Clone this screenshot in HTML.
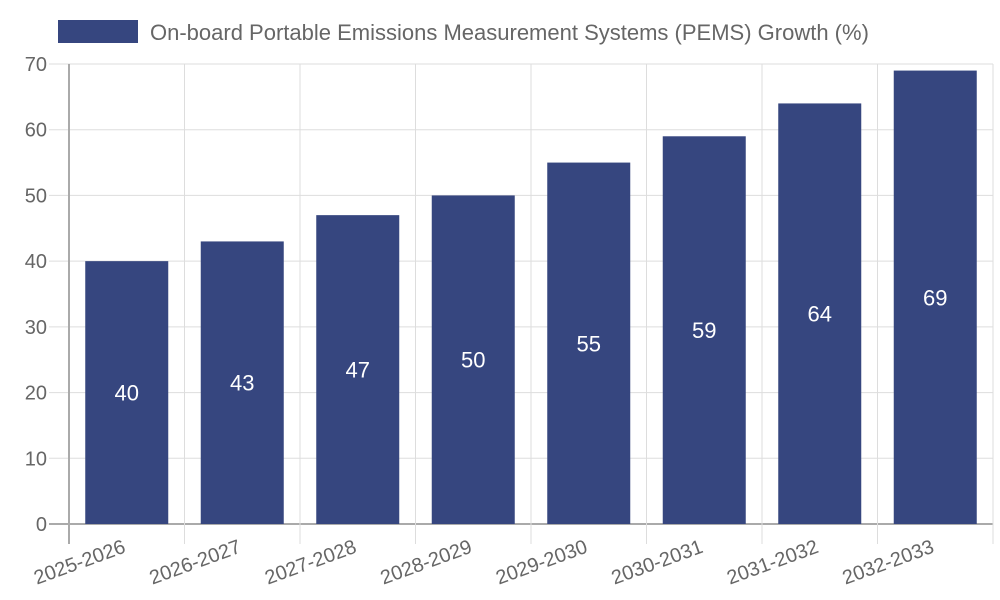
<!DOCTYPE html>
<html><head><meta charset="utf-8"><style>
body{margin:0;background:#fff;}
svg{display:block;font-family:"Liberation Sans",sans-serif;}
</style></head><body>
<svg id="c" width="1000" height="600">
<rect x="58" y="20" width="80" height="23" fill="#36467f"/>
<text x="150" y="40" font-size="22" fill="#666">On-board Portable Emissions Measurement Systems (PEMS) Growth (%)</text>
<g id="grid"></g><g id="bars"></g><g id="axes"></g>
</svg>
<script>
const categories=["2025-2026","2026-2027","2027-2028","2028-2029","2029-2030","2030-2031","2031-2032","2032-2033"];
const values=[40,43,47,50,55,59,64,69];
const yTicks=[0,10,20,30,40,50,60,70];
const L=69,R=993,T=64,B=524,yMax=70;
const NS="http://www.w3.org/2000/svg";
const bw=(R-L)/categories.length;
const y=v=>B-(v/yMax)*(B-T);
const x=i=>L+i*bw;
function mk(tag,attrs,parent){const e=document.createElementNS(NS,tag);for(const k in attrs)e.setAttribute(k,attrs[k]);document.getElementById(parent).appendChild(e);return e;}
yTicks.forEach(t=>{
 const g=mk('line',{x1:49,x2:R,y1:y(t),y2:y(t),stroke:t===0?'#aaa':'#ddd','stroke-width':t===0?2:1},'grid');
 
 
 const tx=mk('text',{x:47,y:y(t)+7,'text-anchor':'end','font-size':20,fill:'#666'},'axes');
 tx.textContent=t;
 
 
});
for(let i=0;i<=categories.length;i++){
 const g=mk('line',{x1:x(i),x2:x(i),y1:T,y2:544,stroke:i===0?'#aaa':'#ddd','stroke-width':i===0?2:1},'grid');
 
 
}
categories.forEach((c,i)=>{
 const cx=x(i)+bw/2,w=83;
 const r=mk('rect',{x:cx-w/2,y:y(values[i]),width:w,height:B-y(values[i]),fill:'#36467f'},'bars');
 
 
 const v=mk('text',{x:cx,y:(y(values[i])+B)/2+8,'text-anchor':'middle','font-size':22,fill:'#fff'},'bars');
 v.textContent=values[i];
 
 
 const lx=cx,ly=552;
 const t=mk('text',{x:lx,y:ly,'text-anchor':'end','font-size':20,fill:'#666',transform:`rotate(-20 ${lx} ${ly})`},'axes');
 t.textContent=c;
 
 
});
</script>
</body></html>
